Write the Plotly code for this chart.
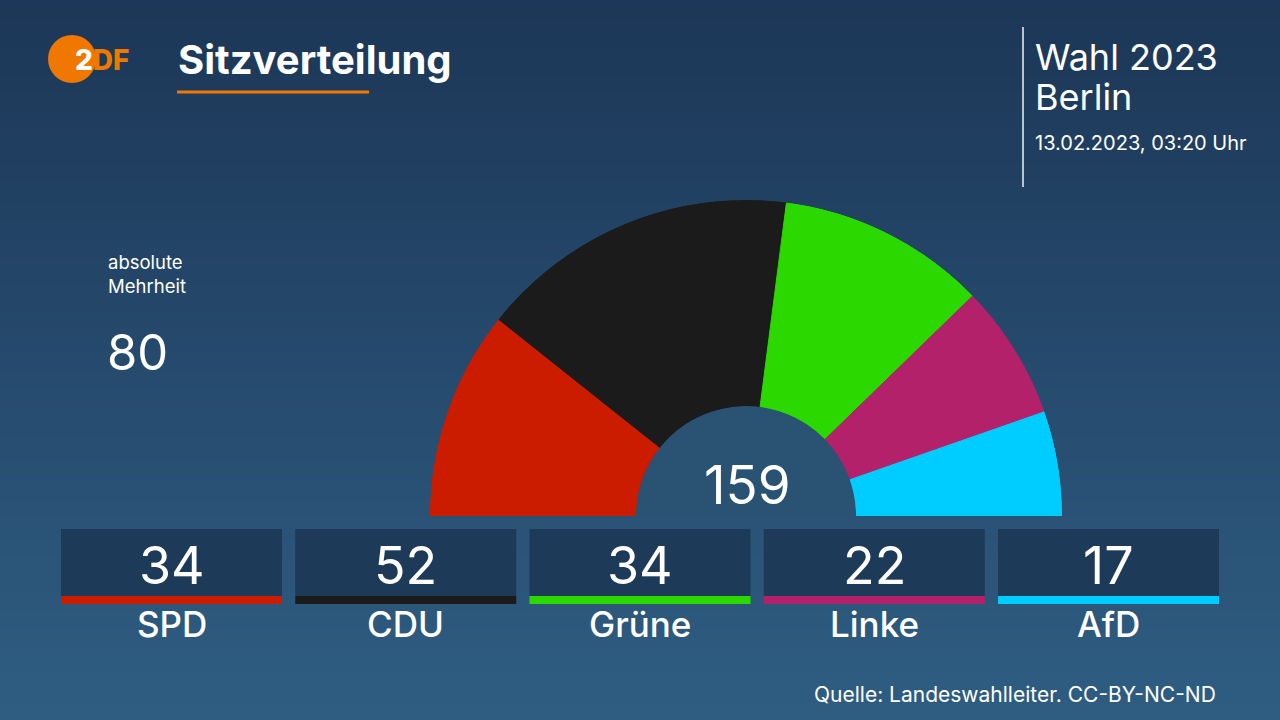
import numpy as np
import plotly.graph_objects as go

# ---------------- data ----------------
parties = ["SPD", "CDU", "Grüne", "Linke", "AfD"]
seats = [34, 52, 34, 22, 17]
party_colors = ["#cc1c00", "#1b1b1b", "#2bd900", "#b2216a", "#00cdff"]
total_seats = sum(seats)          # 159
majority = 80

title = "Sitzverteilung"
election = "Wahl 2023"
region = "Berlin"
timestamp = "13.02.2023, 03:20 Uhr"
majority_label = "absolute<br>Mehrheit"
source = "Quelle: Landeswahlleiter. CC-BY-NC-ND"

# ---------------- styling ----------------
W, H = 1280, 720
FONT = "Inter"
WHITE = "#ffffff"
ORANGE = "#f07800"
BOX = "#1e3a59"
HOLE = "#2a5273"
cx, cy, R_out, R_in = 746, 516, 316, 110

fig = go.Figure()

# background gradient (vertical)
ys = np.linspace(-10, 730, 75)
fig.add_trace(go.Heatmap(
    x=[-10, 1290], y=ys, z=[[v, v] for v in ys],
    colorscale=[[0, "#1c3656"], [1, "#2f5e83"]],
    zsmooth="best", showscale=False, hoverinfo="skip",
))

# inner half disc
t = np.linspace(0, np.pi, 181)
fig.add_trace(go.Scatter(
    x=cx + R_in * np.cos(t), y=cy - R_in * np.sin(t),
    mode="lines", fill="toself", fillcolor=HOLE,
    line=dict(width=0, color=HOLE), hoverinfo="skip",
))

# hemicycle wedges via barpolar
widths = [s / total_seats * 180 for s in seats]
mids = list(np.cumsum(widths) - np.array(widths) / 2)
fig.add_trace(go.Barpolar(
    r=[1] * len(seats), theta=mids, width=widths,
    marker=dict(color=party_colors, line=dict(color=party_colors, width=1)),
    subplot="polar", hoverinfo="skip",
))

fig.update_layout(
    width=W, height=H, margin=dict(l=0, r=0, t=0, b=0),
    paper_bgcolor="#1d3858", plot_bgcolor="rgba(0,0,0,0)",
    showlegend=False,
    xaxis=dict(range=[0, W], visible=False, fixedrange=True, domain=[0, 1]),
    yaxis=dict(range=[H, 0], visible=False, fixedrange=True, domain=[0, 1]),
    polar=dict(
        domain=dict(x=[(cx - R_out) / W, (cx + R_out) / W],
                    y=[(H - cy) / H, (H - cy + R_out) / H]),
        sector=[0, 180], hole=R_in / R_out,
        bgcolor="rgba(0,0,0,0)",
        radialaxis=dict(range=[0, 1], visible=False, showgrid=False),
        angularaxis=dict(visible=False, rotation=180, direction="clockwise",
                         showgrid=False),
    ),
)

shapes = []
annotations = []

def txt(x, y, text, size, xanchor="left", weight=400, color=WHITE):
    annotations.append(dict(
        x=x, y=y, xref="x", yref="y", text=text, showarrow=False,
        xanchor=xanchor, yanchor="middle", align=xanchor if xanchor != "center" else "center",
        font=dict(family=FONT, size=size, color=color, weight=weight),
    ))

# ZDF logo
shapes.append(dict(type="circle", xref="x", yref="y", x0=48, x1=96, y0=35, y1=83,
                   fillcolor=ORANGE, line=dict(width=0), layer="above"))
annotations.append(dict(
    x=73, y=60, xref="x", yref="y", showarrow=False, xanchor="left", yanchor="middle",
    text="<span style='color:#ffffff'>2</span><span style='color:%s'>DF</span>" % ORANGE,
    font=dict(family=FONT, size=28, weight=800),
))

# title + underline
txt(176, 59, title, 40, weight=700)
shapes.append(dict(type="rect", xref="x", yref="y", x0=177, x1=369, y0=90.5, y1=93.5,
                   fillcolor=ORANGE, line=dict(width=0), layer="above"))

# right header
shapes.append(dict(type="line", xref="x", yref="y", x0=1023, x1=1023, y0=27, y1=187,
                   line=dict(color="#b8c4d0", width=2), layer="above"))
txt(1033, 57, election, 36)
txt(1033, 97, region, 36)
txt(1033, 143, timestamp, 20)

# absolute majority
txt(106, 274, majority_label, 18.5)
txt(105, 352, str(majority), 49)

# total in center
txt(cx + 1, 485, str(total_seats), 53, xanchor="center")

# party boxes
box_x0 = 61
box_w = 221
box_step = 234.25
for i, (p, s, c) in enumerate(zip(parties, seats, party_colors)):
    x0 = box_x0 + i * box_step
    x1 = x0 + box_w
    shapes.append(dict(type="rect", xref="x", yref="y", x0=x0, x1=x1, y0=529, y1=596,
                       fillcolor=BOX, line=dict(width=0), layer="above"))
    shapes.append(dict(type="rect", xref="x", yref="y", x0=x0, x1=x1, y0=596, y1=604,
                       fillcolor=c, line=dict(width=0), layer="above"))
    txt((x0 + x1) / 2, 565, str(s), 52, xanchor="center")
    txt((x0 + x1) / 2, 624, p, 35, xanchor="center", weight=500)

# source
txt(1218, 694, source, 21, xanchor="right")

fig.update_layout(shapes=shapes, annotations=annotations)
fig.write_html("out.html", config={"displayModeBar": False})
